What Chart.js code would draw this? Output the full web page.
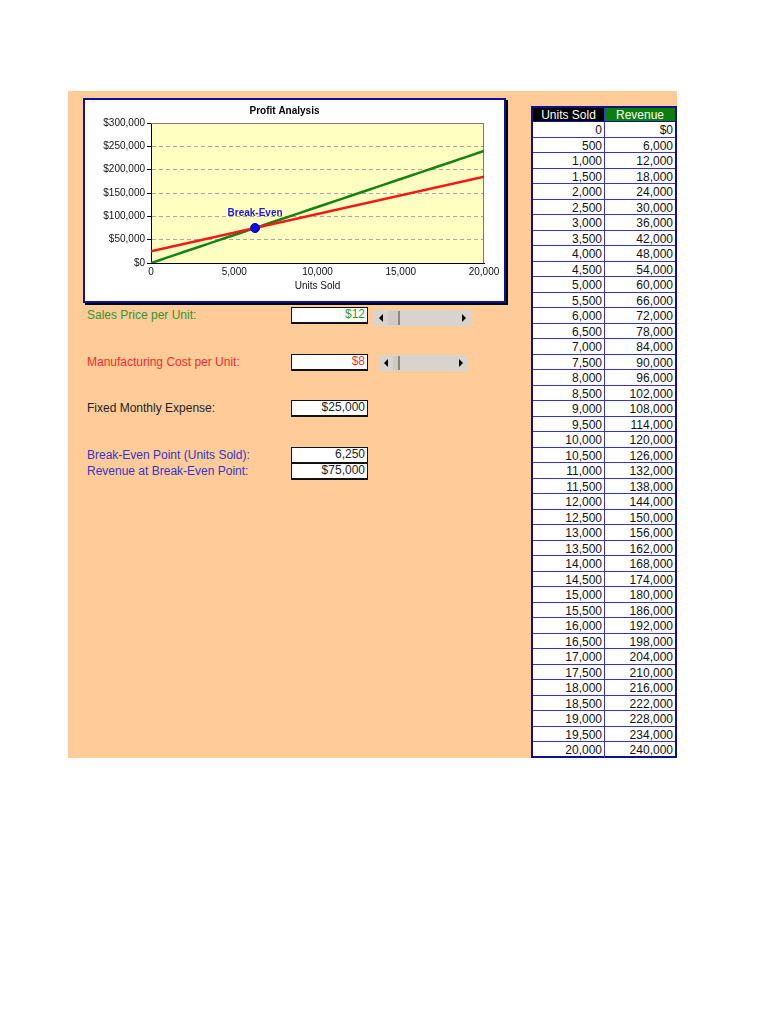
<!DOCTYPE html>
<html lang="en">
<head>
    <meta charset="UTF-8">
    <title>Profit Analysis</title>
    <script src="https://cdn.jsdelivr.net/npm/chart.js"></script>
    <style>
        body {
            margin: 0;
            background: #ffffff;
            font-family: 'Liberation Sans', Arial, Helvetica, sans-serif;
        }

        .sheet {
            position: absolute;
            left: 68px;
            top: 91px;
            width: 609px;
            height: 667px;
            background: #ffcc99;
        }

        .chart-frame {
            position: absolute;
            left: 83px;
            top: 98px;
            width: 423px;
            height: 205px;
            box-sizing: border-box;
            border: 2px solid #1010a0;
            background: #ffffff;
            box-shadow: 2px 2px 0 #000;
        }

        .chart-box {
            position: absolute;
            left: 0;
            top: 0;
            width: 419px;
            height: 201px;
        }

        .label {
            position: absolute;
            left: 87px;
            font-size: 12px;
            line-height: 14px;
            white-space: nowrap;
        }

        .field {
            position: absolute;
            left: 291px;
            width: 77px;
            box-sizing: border-box;
            background: #fff;
            border: 1px solid #111;
            border-bottom-width: 2px;
            font-size: 12px;
            line-height: 13px;
            text-align: right;
            padding-right: 2px;
        }

        .scroll {
            position: absolute;
            height: 16px;
            background: #d8d4cd;
        }
        .scroll .left, .scroll .right {
            position: absolute;
            top: 4px;
            width: 0;
            height: 0;
            border-top: 4px solid transparent;
            border-bottom: 4px solid transparent;
        }
        .scroll .left { left: 5px; border-right: 4px solid #000; }
        .scroll .right { right: 5px; border-left: 4px solid #000; }
        .scroll .thumb {
            position: absolute;
            top: 1px;
            height: 14px;
            background: #cfcbc3;
            border-right: 2px solid #8a8680;
        }

        .table {
            position: absolute;
            left: 531px;
            top: 106px;
            width: 146px;
            height: 652px;
            box-sizing: border-box;
            border: 2px solid #10108a;
            background: #fff;
        }
        .cell {
            position: absolute;
            box-sizing: border-box;
            font-size: 12px;
            text-align: right;
            padding-right: 2px;
            color: #111;
            border-bottom: 1px solid #3434d0;
        }
        .cell.units { left: 0; width: 72px; border-right: 1px solid #3434d0; }
        .cell.rev { left: 72px; width: 70px; }
        .cell.head { color: #fff; text-align: center; padding-right: 0; }
    </style>
</head>
<body>
    <div class="sheet"></div>

    <div class="chart-frame">
        <div class="chart-box"><canvas id="profitChart"></canvas></div>
    </div>

    <div class="label" style="top:308px; color:#2f962f;">Sales Price per Unit:</div>
    <div class="field" style="top:307px; height:17px; color:#2f9a2f;">$12</div>
    <div class="scroll" style="left:374px; top:310px; width:97px;">
        <div class="left"></div>
        <div class="thumb" style="left:14px; width:10px;"></div>
        <div class="right"></div>
    </div>

    <div class="label" style="top:355px; color:#f52a2a;">Manufacturing Cost per Unit:</div>
    <div class="field" style="top:354px; height:17px; color:#f53535;">$8</div>
    <div class="scroll" style="left:379px; top:355px; width:89px;">
        <div class="left"></div>
        <div class="thumb" style="left:14px; width:5px;"></div>
        <div class="right"></div>
    </div>

    <div class="label" style="top:401px; color:#222;">Fixed Monthly Expense:</div>
    <div class="field" style="top:400px; height:17px; color:#222;">$25,000</div>

    <div class="label" style="top:448px; color:#3434c8;">Break-Even Point (Units Sold):</div>
    <div class="label" style="top:464px; color:#3434c8;">Revenue at Break-Even Point:</div>
    <div class="field" style="top:447px; height:16px; color:#222; border-bottom-width:1px;">6,250</div>
    <div class="field" style="top:463px; height:17px; color:#222;">$75,000</div>

    <div class="table" id="dataTable"></div>

    <script>
        // Table columns / revenue line
        const unitsSold = [0, 500, 1000, 1500, 2000, 2500, 3000, 3500, 4000, 4500,
            5000, 5500, 6000, 6500, 7000, 7500, 8000, 8500, 9000, 9500,
            10000, 10500, 11000, 11500, 12000, 12500, 13000, 13500, 14000, 14500,
            15000, 15500, 16000, 16500, 17000, 17500, 18000, 18500, 19000, 19500, 20000];
        const revenue = [0, 6000, 12000, 18000, 24000, 30000, 36000, 42000, 48000, 54000,
            60000, 66000, 72000, 78000, 84000, 90000, 96000, 102000, 108000, 114000,
            120000, 126000, 132000, 138000, 144000, 150000, 156000, 162000, 168000, 174000,
            180000, 186000, 192000, 198000, 204000, 210000, 216000, 222000, 228000, 234000, 240000];

        // Cost line end points
        const costUnits = [0, 20000];
        const costValues = [25000, 185000];

        // Break-even point
        const breakEvenUnits = [6250];
        const breakEvenRevenue = [75000];

        const yTicks = [0, 50000, 100000, 150000, 200000, 250000, 300000];
        const xTicks = [0, 5000, 10000, 15000, 20000];

        const fmt = n => n.toLocaleString('en-US');

        // Build the table on the right
        function buildTable() {
            const table = document.getElementById('dataTable');
            const headH = 14;
            const rowH = 636 / unitsSold.length;
            let html = '';
            html += '<div class="cell units head" style="top:0;height:' + headH + 'px;line-height:' + headH + 'px;background:#000;border-bottom-color:#10108a;">Units Sold</div>';
            html += '<div class="cell rev head" style="top:0;height:' + headH + 'px;line-height:' + headH + 'px;background:#0a7f0a;border-bottom-color:#10108a;">Revenue</div>';
            unitsSold.forEach((u, i) => {
                const top = Math.round(headH + i * rowH);
                const h = Math.round(headH + (i + 1) * rowH) - top;
                const last = i === unitsSold.length - 1 ? 'border-bottom:none;' : '';
                const style = 'top:' + top + 'px;height:' + h + 'px;line-height:' + (h + 1) + 'px;' + last;
                const revText = i === 0 ? '$' + fmt(revenue[i]) : fmt(revenue[i]);
                html += '<div class="cell units" style="' + style + '">' + fmt(u) + '</div>';
                html += '<div class="cell rev" style="' + style + '">' + revText + '</div>';
            });
            table.innerHTML = html;
        }
        buildTable();

        const plotBackground = {
            id: 'plotBackground',
            beforeDraw(chart) {
                const {ctx, chartArea: a} = chart;
                ctx.save();
                ctx.fillStyle = '#ffffc2';
                ctx.fillRect(a.left, a.top, a.right - a.left, a.bottom - a.top);
                ctx.restore();
            },
            beforeDatasetsDraw(chart) {
                const {ctx, chartArea: a} = chart;
                ctx.save();
                ctx.strokeStyle = '#7a7a7a';
                ctx.lineWidth = 1;
                ctx.beginPath();
                ctx.moveTo(a.left, a.top + 0.5);
                ctx.lineTo(a.right - 0.5, a.top + 0.5);
                ctx.lineTo(a.right - 0.5, a.bottom);
                ctx.stroke();
                ctx.restore();
            }
        };

        const breakEvenLabel = {
            id: 'breakEvenLabel',
            afterDatasetsDraw(chart) {
                const {ctx, scales} = chart;
                const px = scales.x.getPixelForValue(breakEvenUnits[0]);
                const py = scales.y.getPixelForValue(breakEvenRevenue[0]);
                ctx.save();
                ctx.font = 'bold 10px "Liberation Sans", Arial, sans-serif';
                ctx.fillStyle = '#1a1ae0';
                ctx.textAlign = 'center';
                ctx.textBaseline = 'middle';
                ctx.fillText('Break-Even', px, py - 15);
                ctx.restore();
            }
        };

        const font = {family: "'Liberation Sans', Arial, sans-serif", size: 10};

        new Chart(document.getElementById('profitChart'), {
            type: 'line',
            data: {
                datasets: [{
                    label: 'Break-Even',
                    data: breakEvenUnits.map((u, i) => ({x: u, y: breakEvenRevenue[i]})),
                    showLine: false,
                    pointRadius: 4.5,
                    pointBackgroundColor: '#0a0ae6',
                    pointBorderColor: '#0000a0',
                    pointBorderWidth: 1,
                    order: 0
                }, {
                    label: 'Cost',
                    data: costUnits.map((u, i) => ({x: u, y: costValues[i]})),
                    borderColor: '#f51818',
                    borderWidth: 2.5,
                    pointRadius: 0,
                    tension: 0,
                    order: 1
                }, {
                    label: 'Revenue',
                    data: unitsSold.map((u, i) => ({x: u, y: revenue[i]})),
                    borderColor: '#168216',
                    borderWidth: 2.5,
                    pointRadius: 0,
                    tension: 0,
                    order: 2
                }]
            },
            options: {
                responsive: true,
                maintainAspectRatio: false,
                animation: false,
                layout: {padding: {left: 0, right: 20, top: 0, bottom: 0}},
                scales: {
                    x: {
                        type: 'linear',
                        min: xTicks[0],
                        max: xTicks[xTicks.length - 1],
                        afterBuildTicks: scale => { scale.ticks = xTicks.map(v => ({value: v})); },
                        afterFit: scale => { scale.height = 38; },
                        ticks: {
                            font: font,
                            color: '#111',
                            padding: 3,
                            maxRotation: 0,
                            callback: v => fmt(v)
                        },
                        grid: {
                            display: true,
                            drawOnChartArea: false,
                            drawTicks: false
                        },
                        border: {display: true, color: '#000', width: 1},
                        title: {
                            display: true,
                            text: 'Units Sold',
                            font: font,
                            color: '#111',
                            padding: {top: 0, bottom: 9}
                        }
                    },
                    y: {
                        min: yTicks[0],
                        max: yTicks[yTicks.length - 1],
                        afterBuildTicks: scale => { scale.ticks = yTicks.map(v => ({value: v})); },
                        afterFit: scale => { scale.width = 66; },
                        ticks: {
                            font: font,
                            color: '#111',
                            padding: 2,
                            callback: v => '$' + fmt(v)
                        },
                        grid: {
                            color: '#a8a8a8',
                            tickColor: '#000',
                            tickLength: 4,
                            lineWidth: 1
                        },
                        border: {display: true, color: '#000', width: 1, dash: [4, 3]}
                    }
                },
                plugins: {
                    legend: {display: false},
                    tooltip: {enabled: false},
                    title: {
                        display: true,
                        text: 'Profit Analysis',
                        font: {family: font.family, size: 10, weight: 'bold'},
                        color: '#000',
                        padding: {top: 5, bottom: 6}
                    }
                }
            },
            plugins: [plotBackground, breakEvenLabel]
        });
    </script>
</body>
</html>
